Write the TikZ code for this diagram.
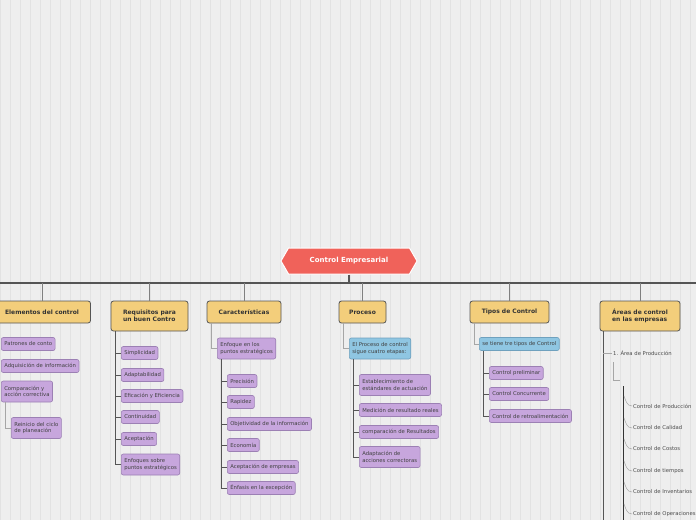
\documentclass[tikz,border=0pt]{standalone}
\usepackage{fontspec}
\setmainfont{DejaVu Sans}
\usetikzlibrary{shapes.geometric,shapes.misc,shapes.symbols}
\definecolor{bg}{HTML}{EEEEEE}
\definecolor{gridc}{HTML}{E2E2E2}
\definecolor{rootc}{HTML}{F0625A}
\definecolor{mainc}{HTML}{F3CE7B}
\definecolor{purp}{HTML}{C7A6DD}
\definecolor{purpb}{HTML}{9C80B4}
\definecolor{bluec}{HTML}{8FC6E2}
\definecolor{blueb}{HTML}{6FA1BE}
\definecolor{linec}{HTML}{555555}
\tikzset{
 x=1pt,y=-1pt,
 mainbox/.style={draw=linec,line width=0.8pt,fill=mainc,rounded corners=2.5pt,font=\fontsize{6}{7}\selectfont\bfseries,text=black!80,align=left,inner xsep=5pt,inner ysep=3pt,minimum height=22pt},
 sub/.style={draw=purpb,line width=0.6pt,fill=purp,rounded corners=2pt,font=\fontsize{5.3}{6.3}\selectfont,text=black!75,align=left,inner xsep=3pt,inner ysep=2pt,anchor=west,minimum height=13pt},
 bsub/.style={sub,draw=blueb,fill=bluec},
 conn/.style={draw=linec,line width=0.7pt},
 lconn/.style={draw=gray!70,line width=0.7pt},
 plain/.style={font=\fontsize{5.3}{6.3}\selectfont,text=black!70,anchor=west,inner sep=1pt},
}
\begin{document}
\begin{tikzpicture}
\fill[bg] (0,0) rectangle (696,520);
\clip (0,0) rectangle (696,520);
\draw[gridc,line width=0.4pt] (0,0) grid[step=10] (696,520);
\useasboundingbox (0,0) rectangle (696,520);
% root
\node[fill=rootc,draw=white,line width=1pt,signal,signal to=east and west,signal pointer angle=120,minimum width=136pt,minimum height=26pt,text=white,font=\fontsize{7}{8}\selectfont\bfseries] (root) at (349,261) {Control Empresarial};
\coordinate (bl) at (0,283); \coordinate (br) at (696,283);
\draw[conn,line width=1.2pt] (bl) -- (br);
\draw[conn,line width=1.5pt] (root.south) -- (root.south |- bl);
% main
\node[mainbox,minimum width=97pt] (m1) at (42,312) {Elementos del control};
\node[mainbox,minimum width=77pt,minimum height=30pt] (m2) at (149.5,316) {Requisitos para\\un buen Contro};
\node[mainbox,minimum width=74pt] (m3) at (244,312) {Características};
\node[mainbox,minimum width=47pt] (m4) at (362.5,312) {Proceso};
\node[mainbox,minimum width=79pt] (m5) at (509.5,312) {Tipos de Control};
\node[mainbox,minimum width=80pt,minimum height=30pt] (m6) at (640,316) {Áreas de control\\en las empresas};
\foreach \m in {m1,m2,m3,m4,m5,m6} \draw[conn,draw=gray] (\m.north) -- (\m.north |- bl);
% Elementos
\node[sub] (e1) at (1,344) {Patrones de conto};
\node[sub] (e2) at (1,366) {Adquisición de información};
\node[sub,minimum height=21pt] (e3) at (1,391.5) {Comparación y\\acción correctiva};
\node[sub,minimum height=21pt] (e4) at (11,428) {Reinicio del ciclo\\de planeación};
\draw[lconn] ([xshift=4pt]e3.south west) |- (e4.west);
% Requisitos
\coordinate (rx) at (115,331);
\node[sub] (r1) at (121,353) {Simplicidad};
\node[sub] (r2) at (121,375) {Adaptabilidad};
\node[sub] (r3) at (121,396) {Eficación y Eficiencia};
\node[sub] (r4) at (121,417) {Continuidad};
\node[sub] (r5) at (121,439) {Aceptación};
\node[sub,minimum height=21pt] (r6) at (121,464.5) {Enfoques sobre\\puntos estratégicos};
\draw[conn] (rx) |- (r6.west);
\foreach \r in {r1,r2,r3,r4,r5} \draw[conn] (rx |- \r.west) -- (\r.west);
% Características
\node[sub,minimum height=21pt] (c0) at (217,348.5) {Enfoque en los\\puntos estratégicos};
\coordinate (c0x) at (211,323);
\draw[lconn] (c0x) |- (c0.west);
\coordinate (cx) at (221,359);
\node[sub] (c1) at (227,381) {Precisión};
\node[sub] (c2) at (227,402) {Rapidez};
\node[sub] (c3) at (227,424) {Objetividad de la información};
\node[sub] (c4) at (227,445) {Economía};
\node[sub] (c5) at (227,467) {Aceptación de empresas};
\node[sub] (c6) at (227,488) {Énfasis en la excepción};
\draw[conn] (cx) |- (c6.west);
\foreach \c in {c1,c2,c3,c4,c5} \draw[conn] (cx |- \c.west) -- (\c.west);
% Proceso
\node[bsub,minimum height=21pt] (p0) at (349,348.5) {El Proceso de control\\sigue cuatro etapas:};
\coordinate (p0x) at (343,323);
\draw[lconn] (p0x) |- (p0.west);
\coordinate (px) at (353,359);
\node[sub,minimum height=21pt] (p1) at (359,385) {Establecimiento de\\estándares de actuación};
\node[sub] (p2) at (359,410) {Medición de resultado reales};
\node[sub] (p3) at (359,432) {comparación de Resultados};
\node[sub,minimum height=21pt] (p4) at (359,457) {Adaptación de\\acciones correctoras};
\draw[conn] (px) |- (p4.west);
\foreach \p in {p1,p2,p3} \draw[conn] (px |- \p.west) -- (\p.west);
% Tipos
\node[bsub] (t0) at (479,344) {se tiene tre tipos de Control};
\coordinate (t0x) at (474,323);
\draw[lconn] (t0x) |- (t0.west);
\coordinate (tx) at (483,351);
\node[sub] (t1) at (489,373) {Control preliminar};
\node[sub] (t2) at (489,394) {Control Concurrente};
\node[sub] (t3) at (489,416) {Control de retroalimentación};
\draw[conn] (tx) |- (t3.west);
\foreach \t in {t1,t2} \draw[conn] (tx |- \t.west) -- (\t.west);
% Areas
\coordinate (at) at (603,331);
\coordinate (av) at (603,520);
\draw[conn] (at) -- (av);
\node[plain] (a0) at (612,353) {1. Área de Producción};
\draw[lconn,line width=0.5pt] (at |- a0.west) -- (a0.west);
\coordinate (b1) at (613,362); \coordinate (b2) at (620,380);
\draw[lconn,line width=0.6pt] (b1) |- (b2);
\coordinate (v1) at (623,386); \coordinate (v2) at (623,520);
\draw[conn,draw=black!80] (v1) -- (v2);
\foreach \i/\t/\y in {1/Control de Producción/406,2/Control de Calidad/428,3/Control de Costos/449,4/Control de tiempos/471,5/Control de Inventarios/492,6/Control de Operaciones/514}{
  \node[plain] (a\i) at (632,\y) {\t};
  \draw[lconn,line width=0.5pt] (624,\y-10) to[out=-70,in=180] (a\i.west);
}
\end{tikzpicture}
\end{document}
